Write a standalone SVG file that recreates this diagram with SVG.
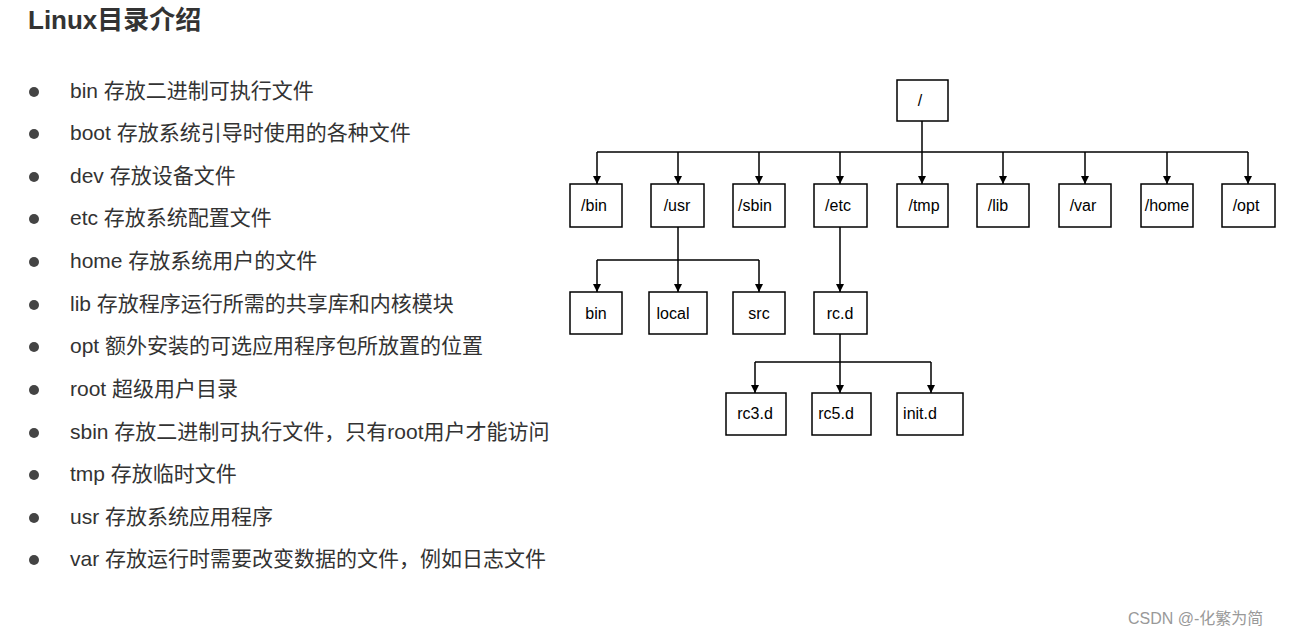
<svg xmlns="http://www.w3.org/2000/svg" width="1295" height="636" viewBox="0 0 1295 636">
<style>
.t{font-family:"Liberation Sans","Noto Sans CJK SC",sans-serif;font-size:21px;fill:#333}
.n rect{fill:#fff;stroke:#000;stroke-width:1.5}
.n text{font-family:"Liberation Sans",sans-serif;font-size:16px;fill:#000;text-anchor:middle}
.c path{fill:none;stroke:#000;stroke-width:1.5}
</style>
<defs><marker id="a" viewBox="0 0 10 10" refX="10" refY="5" markerWidth="8" markerHeight="8" markerUnits="userSpaceOnUse" orient="auto"><path d="M0,0L10,5L0,10z" fill="#000"/></marker></defs>
<rect width="1295" height="636" fill="#fff"/>
<text x="28" y="29" style="font-family:'Liberation Sans','Noto Sans CJK SC',sans-serif;font-size:26px;font-weight:bold;fill:#333">Linux目录介绍</text>
<g fill="#444">
<circle cx="34" cy="92" r="5"/><circle cx="34" cy="134" r="5"/><circle cx="34" cy="177" r="5"/><circle cx="34" cy="219" r="5"/><circle cx="34" cy="262" r="5"/><circle cx="34" cy="305" r="5"/><circle cx="34" cy="347" r="5"/><circle cx="34" cy="390" r="5"/><circle cx="34" cy="433" r="5"/><circle cx="34" cy="475" r="5"/><circle cx="34" cy="518" r="5"/><circle cx="34" cy="560" r="5"/>
</g>
<text class="t" x="70" y="98">bin 存放二进制可执行文件</text>
<text class="t" x="70" y="140">boot 存放系统引导时使用的各种文件</text>
<text class="t" x="70" y="183">dev 存放设备文件</text>
<text class="t" x="70" y="225">etc 存放系统配置文件</text>
<text class="t" x="70" y="268">home 存放系统用户的文件</text>
<text class="t" x="70" y="311">lib 存放程序运行所需的共享库和内核模块</text>
<text class="t" x="70" y="353">opt 额外安装的可选应用程序包所放置的位置</text>
<text class="t" x="70" y="396">root 超级用户目录</text>
<text class="t" x="70" y="439">sbin 存放二进制可执行文件，只有root用户才能访问</text>
<text class="t" x="70" y="481">tmp 存放临时文件</text>
<text class="t" x="70" y="524">usr 存放系统应用程序</text>
<text class="t" x="70" y="566">var 存放运行时需要改变数据的文件，例如日志文件</text>
<g class="c">
<path d="M922,121V184" marker-end="url(#a)"/>
<path d="M597,152H1248"/>
<path d="M597,152V184" marker-end="url(#a)"/><path d="M678,152V184" marker-end="url(#a)"/><path d="M759,152V184" marker-end="url(#a)"/><path d="M840,152V184" marker-end="url(#a)"/><path d="M1003,152V184" marker-end="url(#a)"/><path d="M1085,152V184" marker-end="url(#a)"/><path d="M1167,152V184" marker-end="url(#a)"/><path d="M1248,152V184" marker-end="url(#a)"/>
<path d="M678,227V292" marker-end="url(#a)"/>
<path d="M597,260H759"/>
<path d="M597,260V292" marker-end="url(#a)"/><path d="M759,260V292" marker-end="url(#a)"/>
<path d="M840,227V292" marker-end="url(#a)"/>
<path d="M840,334V393" marker-end="url(#a)"/>
<path d="M755,362H931"/>
<path d="M755,362V393" marker-end="url(#a)"/><path d="M931,362V393" marker-end="url(#a)"/>
</g>
<g id="root" class="n"><rect x="897" y="80" width="51" height="41"/><text x="920" y="106">/</text></g>
<g id="n-bin" class="n"><rect x="570" y="184" width="52" height="43"/><text x="594" y="211">/bin</text></g>
<g id="n-usr" class="n"><rect x="651" y="184" width="53" height="43"/><text x="677" y="211">/usr</text></g>
<g id="n-sbin" class="n"><rect x="733" y="184" width="52" height="43"/><text x="755" y="211">/sbin</text></g>
<g id="n-etc" class="n"><rect x="814" y="184" width="53" height="43"/><text x="838" y="211">/etc</text></g>
<g id="n-tmp" class="n"><rect x="897" y="184" width="51" height="43"/><text x="924" y="211">/tmp</text></g>
<g id="n-lib" class="n"><rect x="977" y="184" width="52" height="43"/><text x="998" y="211">/lib</text></g>
<g id="n-var" class="n"><rect x="1059" y="184" width="52" height="43"/><text x="1083" y="211">/var</text></g>
<g id="n-home" class="n"><rect x="1141" y="184" width="52" height="43"/><text x="1167" y="211">/home</text></g>
<g id="n-opt" class="n"><rect x="1222" y="184" width="53" height="43"/><text x="1246" y="211">/opt</text></g>
<g id="u-bin" class="n"><rect x="570" y="292" width="52" height="42"/><text x="596" y="319">bin</text></g>
<g id="u-local" class="n"><rect x="649" y="292" width="58" height="42"/><text x="673" y="319">local</text></g>
<g id="u-src" class="n"><rect x="733" y="292" width="52" height="42"/><text x="759" y="319">src</text></g>
<g id="rcd" class="n"><rect x="814" y="292" width="53" height="42"/><text x="840" y="319">rc.d</text></g>
<g id="rc3" class="n"><rect x="726" y="393" width="60" height="42"/><text x="755" y="419">rc3.d</text></g>
<g id="rc5" class="n"><rect x="812" y="393" width="59" height="42"/><text x="836" y="419">rc5.d</text></g>
<g id="initd" class="n"><rect x="897" y="393" width="66" height="42"/><text x="920" y="419">init.d</text></g>
<text x="1128" y="624" style="font-family:'Liberation Sans','Noto Sans CJK SC',sans-serif;font-size:16px;fill:#999">CSDN @-化繁为简</text>
</svg>
